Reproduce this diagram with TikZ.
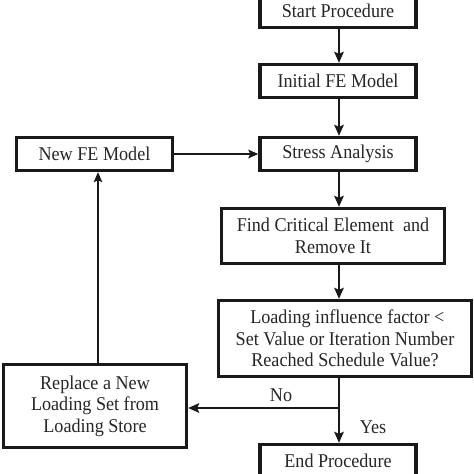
\documentclass[tikz,border=0pt]{standalone}
\usepackage{fontspec}
\setmainfont{Liberation Serif}[FakeStretch=0.93]
\usetikzlibrary{arrows.meta}
\begin{document}
\begin{tikzpicture}[x=1pt,y=-1pt,
  box/.style={draw=black!90, line width=3.3pt, fill=white, align=center, inner sep=0pt,
    text=black!85, font=\fontsize{19.5}{21.5}\selectfont},
  mainarrow/.style={draw=black!90, line width=2.7pt, -{Stealth[length=11pt,width=9.5pt,inset=2pt]}},
  thinarrow/.style={draw=black!90, line width=1.8pt, -{Stealth[length=10pt,width=8.5pt,inset=2pt]}},
  lbl/.style={text=black!85, font=\fontsize{19.5}{21.5}\selectfont, inner sep=0pt}]
\useasboundingbox (0,0) rectangle (474,474);
\node[box, minimum width=156pt, minimum height=33pt] (start) at (338,11) {Start Procedure};
\node[box, minimum width=156pt, minimum height=33pt] (init) at (338,81) {Initial FE Model};
\node[box, minimum width=156pt, minimum height=33pt] (stress) at (338,154) {Stress Analysis};
\node[box, minimum width=156pt, minimum height=33pt] (newfe) at (94.5,154) {New FE Model};
\node[box, minimum width=223pt, minimum height=55pt] (find) at (333,236) {Find Critical Element\ \ and\\Remove It};
\node[box, minimum width=253pt, minimum height=76pt] (load) at (345,338.5) {\ Loading influence factor <\\Set Value or Iteration Number\\Reached Schedule Value?};
\node[box, minimum width=183pt, minimum height=83pt] (repl) at (95,406) {Replace a New\\Loading Set from\\Loading Store};
\node[box, minimum width=156pt, minimum height=33pt] (endp) at (338,461) {End Procedure};
\coordinate (ax) at (339,0);
\coordinate (fb) at (98,0);
\coordinate (split) at (339,408);
\draw[mainarrow] (start.south -| ax) -- (init.north -| ax);
\draw[mainarrow] (init.south -| ax) -- (stress.north -| ax);
\draw[mainarrow] (stress.south -| ax) -- (find.north -| ax);
\draw[mainarrow] (find.south -| ax) -- (load.north -| ax);
\draw[mainarrow] (load.south -| ax) -- (endp.north -| ax);
\draw[draw=black!90, line width=2.3pt, -{Stealth[length=11pt,width=9.5pt,inset=2pt]}] (split) -- (split -| repl.east);
\draw[thinarrow] (repl.north -| fb) -- (newfe.south -| fb);
\draw[thinarrow] (newfe.east) -- (stress.west);
\node[lbl] (no) at (281,395) {No};
\node[lbl] (yes) at (373,427) {Yes};
\end{tikzpicture}
\end{document}
